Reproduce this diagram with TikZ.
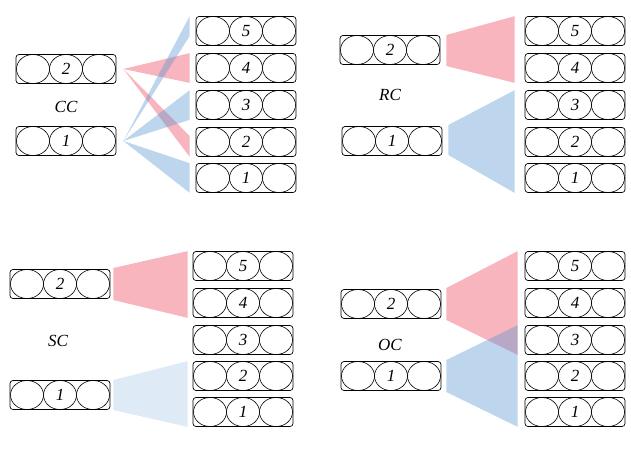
\documentclass[tikz,border=0pt]{standalone}
\usepackage{fontspec}
\setmainfont{Liberation Serif}
\usetikzlibrary{positioning,calc,shapes.geometric}
\definecolor{wedgered}{RGB}{240,90,110}
\definecolor{wedgeblue}{RGB}{90,150,210}
\tikzset{
  rowbox/.style={draw, rounded corners=3pt, line width=0.7pt, minimum width=100pt, minimum height=29pt, inner sep=0pt},
  rowcell/.style={draw, ellipse, line width=0.6pt, minimum width=33pt, minimum height=29pt, inner sep=0pt, font=\fontsize{17}{17}\selectfont\itshape},
  redfan/.style={fill=wedgered, opacity=0.45},
  bluefan/.style={fill=wedgeblue, opacity=0.4},
  palefan/.style={fill=wedgeblue, opacity=0.2},
  panelname/.style={font=\fontsize{17}{17}\selectfont\itshape},
}
% one row of three cells, the middle one numbered
\newcommand{\cellrow}[4]{%
  \node[rowbox] (#1) at (#2,#3) {};
  \node[rowcell] at ($(#1.center)+(-33,0)$) {};
  \node[rowcell] at (#1.center) {#4};
  \node[rowcell] at ($(#1.center)+(33,0)$) {};
}
\begin{document}
\begin{tikzpicture}[x=1pt, y=-1pt]
  \useasboundingbox (0,0) rectangle (631,449);

  % CC
  \foreach \n/\y in {5/31,4/68,3/105,2/142,1/178} {\cellrow{cc\n}{246}{\y}{\n}}
  \cellrow{ccB}{66}{69}{2}
  \cellrow{ccA}{66}{141}{1}
  \node[panelname] (ccname) at (66,107) {CC};
  \coordinate (ccBo) at ($(ccB.east)+(7,0)$);
  \coordinate (ccAo) at ($(ccA.east)+(7,0)$);
  \fill[redfan] (ccBo) -- ($(cc4.north west)+(-6,0)$) -- ($(cc4.south west)+(-6,0)$) -- cycle;
  \fill[redfan] (ccBo) -- ($(cc2.west)+(-6,-6)$) -- ($(cc2.south west)+(-6,0)$) -- cycle;
  \fill[bluefan] (ccAo) -- ($(cc5.north west)+(-6,0)$) -- ($(cc5.west)+(-6,5)$) -- cycle;
  \fill[bluefan] (ccAo) -- ($(cc3.north west)+(-6,0)$) -- ($(cc3.south west)+(-6,0)$) -- cycle;
  \fill[bluefan] (ccAo) -- ($(cc1.north west)+(-6,0)$) -- ($(cc1.south west)+(-6,0)$) -- cycle;

  % RC
  \foreach \n/\y in {5/31,4/68,3/105,2/142,1/178} {\cellrow{rc\n}{575}{\y}{\n}}
  \cellrow{rcB}{390}{50}{2}
  \cellrow{rcA}{392}{141}{1}
  \node[panelname] (rcname) at (390,95) {RC};
  \fill[redfan] ($(rcB.east)+(6,-15)$) -- ($(rc5.north west)+(-10,0)$) -- ($(rc4.south west)+(-10,0)$) -- ($(rcB.east)+(6,16)$) -- cycle;
  \fill[bluefan] ($(rcA.east)+(6,-16)$) -- ($(rc3.north west)+(-10,0)$) -- ($(rc1.south west)+(-10,0)$) -- ($(rcA.east)+(6,14)$) -- cycle;

  % SC
  \foreach \n/\y in {5/266,4/303,3/340,2/376,1/412} {\cellrow{sc\n}{243}{\y}{\n}}
  \cellrow{scB}{60}{284}{2}
  \cellrow{scA}{60}{395}{1}
  \node[panelname] (scname) at (58,341) {SC};
  \fill[redfan] ($(scB.east)+(3,-16)$) -- ($(sc5.north west)+(-5,0)$) -- ($(sc4.south west)+(-5,0)$) -- ($(scB.east)+(3,16)$) -- cycle;
  \fill[palefan] ($(scA.east)+(3,-15)$) -- ($(sc2.north west)+(-5,0)$) -- ($(sc1.south west)+(-5,0)$) -- ($(scA.east)+(3,15)$) -- cycle;

  % OC
  \foreach \n/\y in {5/266,4/303,3/340,2/376,1/412} {\cellrow{oc\n}{575}{\y}{\n}}
  \cellrow{ocB}{391}{304}{2}
  \cellrow{ocA}{391}{376}{1}
  \node[panelname] (ocname) at (390,345) {OC};
  \fill[redfan] ($(ocB.east)+(5,-16)$) -- ($(oc5.north west)+(-7,0)$) -- ($(oc3.south west)+(-7,0)$) -- ($(ocB.east)+(5,16)$) -- cycle;
  \fill[bluefan] ($(ocA.east)+(5,-16)$) -- ($(oc3.north west)+(-7,0)$) -- ($(oc1.south west)+(-7,0)$) -- ($(ocA.east)+(5,16)$) -- cycle;
\end{tikzpicture}
\end{document}
